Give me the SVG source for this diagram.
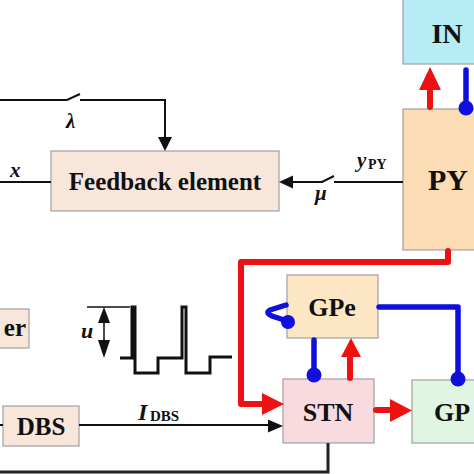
<svg xmlns="http://www.w3.org/2000/svg" width="474" height="474" viewBox="0 0 474 474">
<defs>
<style>
.box{stroke:#a0a0a0;stroke-width:1.2}
.lbl{font-family:"Liberation Serif","Times New Roman",serif;font-weight:bold;fill:#111;text-anchor:middle}
.it{font-family:"Liberation Serif","Times New Roman",serif;font-style:italic;font-weight:bold;fill:#111}
.sub{font-family:"Liberation Serif","Times New Roman",serif;font-weight:bold;fill:#111}
.blk{fill:none;stroke:#111;stroke-width:2}
.red{fill:none;stroke:#ee1111;stroke-width:6;stroke-linejoin:round;stroke-linecap:round}
.blue{fill:none;stroke:#1010dd;stroke-width:5.5;stroke-linejoin:round;stroke-linecap:round}
.rh{fill:#ee1111}
.bd{fill:#1010dd}
</style>
</defs>
<rect width="474" height="474" fill="#ffffff"/>

<g id="IN">
<rect class="box" x="403" y="-2" width="80" height="66" fill="#b5ecf6"/>
<text class="lbl" x="447" y="43" font-size="28">IN</text>
</g>
<g id="PY">
<rect class="box" x="403" y="109" width="80" height="141" fill="#fbdcb4"/>
<text class="lbl" x="448" y="190" font-size="30">PY</text>
</g>
<g id="Feedback">
<rect class="box" x="51" y="151" width="228" height="60" fill="#f9e6da"/>
<text class="lbl" x="165" y="190" font-size="25">Feedback element</text>
</g>
<g id="Controller">
<rect class="box" x="-10" y="309" width="39" height="39" fill="#f9e6da"/>
<text class="lbl" x="26" y="336" font-size="25" style="text-anchor:end">er</text>
</g>
<g id="DBS">
<rect class="box" x="3" y="406" width="76" height="40" fill="#f9e6da"/>
<text class="lbl" x="41" y="435" font-size="25">DBS</text>
</g>
<g id="GPe">
<rect class="box" x="287" y="275" width="91" height="63" fill="#fce6c4"/>
<text class="lbl" x="332" y="316" font-size="26">GPe</text>
</g>
<g id="STN">
<rect class="box" x="283" y="379" width="91" height="64" fill="#f9dadf"/>
<text class="lbl" x="328" y="421" font-size="26">STN</text>
</g>
<g id="GPi">
<rect class="box" x="412" y="380" width="70" height="63" fill="#e1f6e2"/>
<text class="lbl" x="434" y="421" font-size="26" style="text-anchor:start">GP</text>
</g>

<g id="connectors">
<path class="blk" d="M0,100 H67 L80,94 M80,100 H165 V138"/>
<polygon points="158,137 172,137 165,151" fill="#111"/>
<text class="it" x="66" y="128" font-size="21">λ</text>
<path class="blk" d="M0,182 H51"/>
<text class="it" x="10" y="177" font-size="21">x</text>
<path class="blk" d="M403,182 H334 M334,176 L322,182 H290"/>
<polygon points="279,182 293,175.5 293,188.5" fill="#111"/>
<text class="it" x="357" y="167" font-size="21">y</text>
<text class="sub" x="368" y="169" font-size="14">PY</text>
<text class="it" x="315" y="200" font-size="21">μ</text>
<path class="red" d="M430,107 V86"/>
<polygon class="rh" points="419,90 441,90 430,67"/>
<path class="blue" d="M466,70 V104"/>
<circle class="bd" cx="466" cy="108" r="7.5"/>
<path class="red" d="M448,251 V262 H241 V404 H264"/>
<polygon class="rh" points="262,393 284,404 262,415"/>
<path class="red" d="M350,378 V355"/>
<polygon class="rh" points="341,357 361,357 351,338"/>
<path class="red" d="M376,410 H392"/>
<polygon class="rh" points="390,399 412,410.5 390,422"/>
<path class="blue" d="M314,340 V370"/>
<circle class="bd" cx="314" cy="375" r="7.5"/>
<path class="blue" d="M379,307 H458 V374"/>
<circle class="bd" cx="458" cy="379" r="7.5"/>
<path class="blue" d="M286,305 L270,310 Q265,313 272,316 L284,320"/>
<circle class="bd" cx="288" cy="322" r="7"/>
<path class="blk" d="M0,425 H3 M79,425 H270"/>
<polygon points="283,426 268,419.5 268,432.5" fill="#111"/>
<text class="it" x="138" y="420" font-size="24">I</text>
<text class="sub" x="150" y="421" font-size="15">DBS</text>
<path d="M328,443 V472 H0" fill="none" stroke="#222" stroke-width="3"/>
<path d="M87,307 H130" fill="none" stroke="#111" stroke-width="1.5"/>
<path d="M104,320 V343" fill="none" stroke="#111" stroke-width="1.5"/>
<polygon points="104,307 98,323 110,323" fill="#111"/>
<polygon points="104,358 98,340 110,340" fill="#111"/>
<text class="it" x="81" y="338" font-size="22">u</text>
<path d="M120,358 H132 V307 H135 V373 H158 V358 H182 V307 H186 V373 H210 V357 H232" fill="none" stroke="#111" stroke-width="3"/>
</g>
</svg>
